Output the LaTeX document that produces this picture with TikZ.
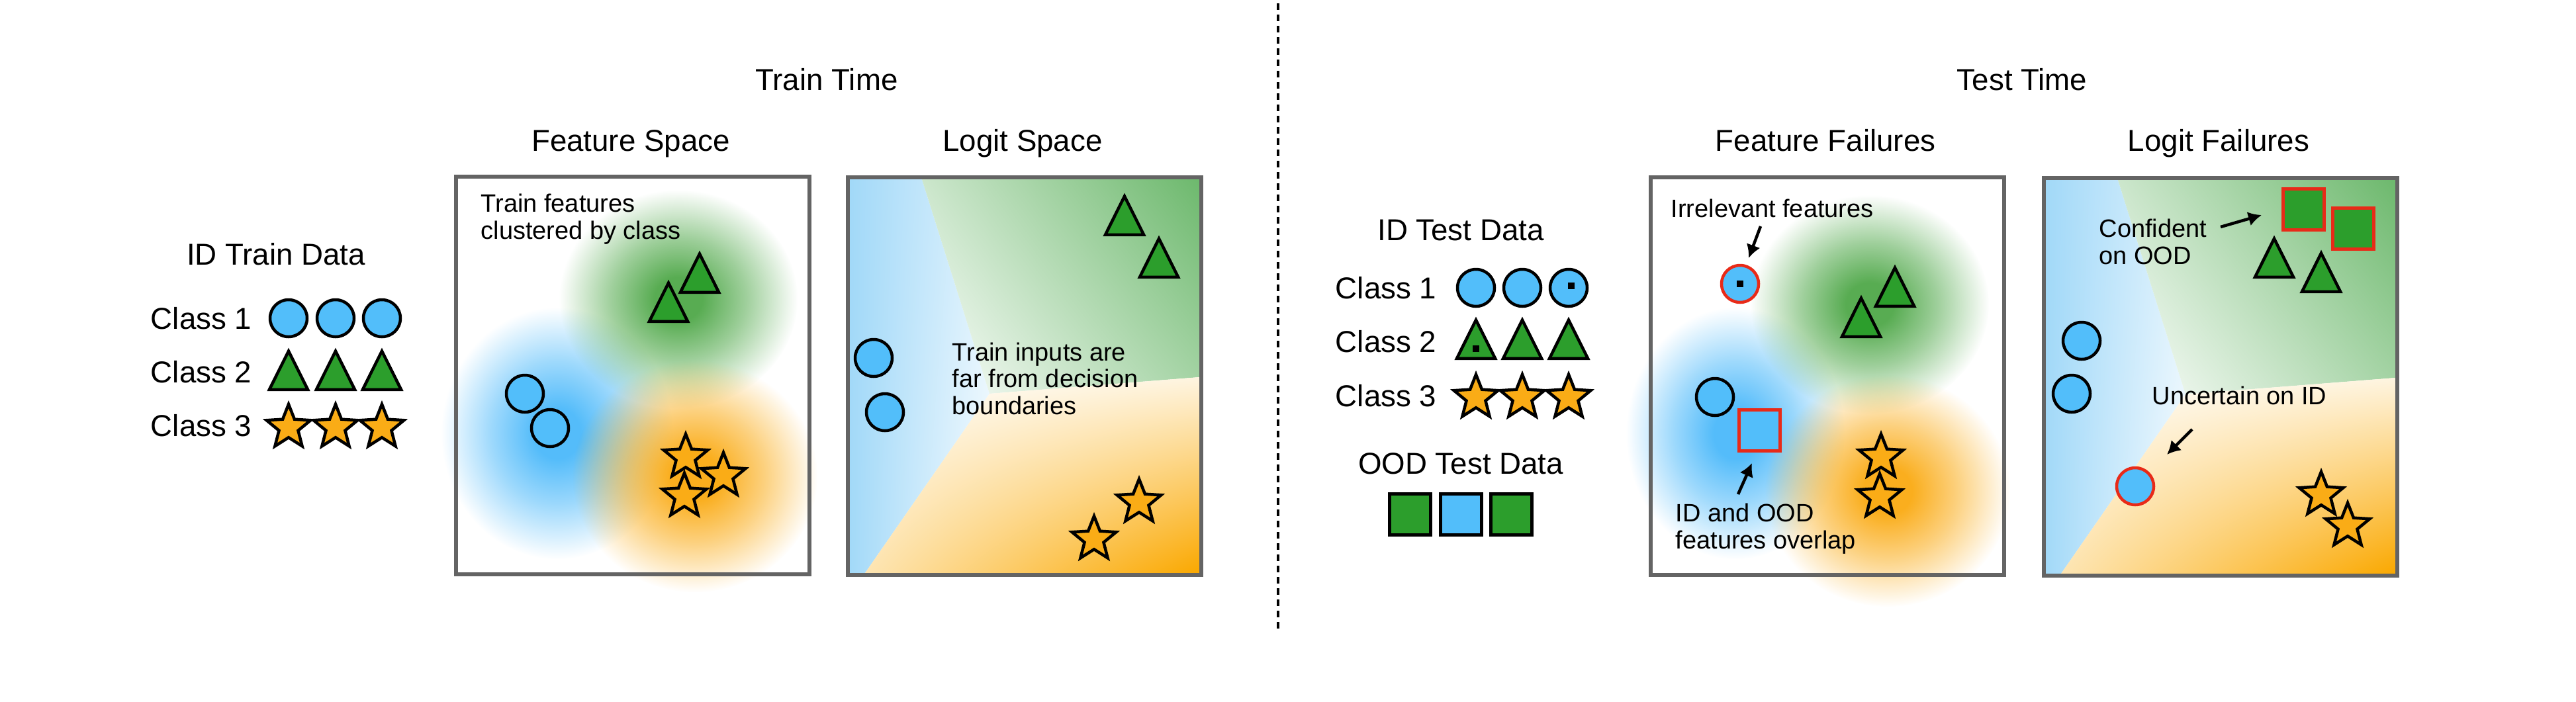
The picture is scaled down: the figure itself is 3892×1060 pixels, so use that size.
\documentclass[tikz,border=0pt]{standalone}
\usepackage{fontspec}
\setmainfont{Liberation Sans}
\usetikzlibrary{positioning, shapes.geometric, arrows.meta, fadings, shadings}

\definecolor{ptblue}{RGB}{82,190,250}
\definecolor{ptgreen}{RGB}{44,158,44}
\definecolor{ptorange}{RGB}{250,172,22}
\definecolor{ptred}{RGB}{232,42,24}
\definecolor{framegray}{RGB}{100,100,100}
\definecolor{blobblue}{RGB}{84,188,250}
\definecolor{blobgreen}{RGB}{88,172,82}
\definecolor{blobora}{RGB}{250,174,30}
\definecolor{lgblue}{RGB}{160,216,248}
\definecolor{lggreen}{RGB}{108,184,108}
\definecolor{lgora}{RGB}{250,168,0}

\pgfdeclareradialshading{blobshade}{\pgfpointorigin}{color(0bp)=(white); color(5bp)=(white); color(14bp)=(black!42); color(25bp)=(black); color(50bp)=(black)}
\pgfdeclarefading{blobfade}{\pgfuseshading{blobshade}}

\begin{document}
\begin{tikzpicture}[
				x=0.1mm, y=-0.1mm,
				panel/.style={draw=framegray, line width=0.55mm, minimum width=53.4mm, minimum height=60.1mm, inner sep=0, anchor=north west},
				paneltitle/.style={font=\fontsize{13}{15}\selectfont, anchor=base, inner sep=0},
				notetext/.style={font=\fontsize{10.8}{11.4}\selectfont, align=left, anchor=base west, inner sep=0},
				classlabel/.style={font=\fontsize{13}{15}\selectfont, anchor=east, inner sep=0},
				ptcircle/.style={circle, draw=black, fill=ptblue, line width=0.45mm, minimum size=5.6mm, inner sep=0},
				pttri/.style={isosceles triangle, isosceles triangle apex angle=53, shape border rotate=90, draw=black, fill=ptgreen, line width=0.45mm, minimum width=5.8mm, minimum height=5.8mm, inner sep=0, anchor=lower side},
				ptstar/.style={star, star points=5, star point ratio=2.3, draw=black, fill=ptorange, line width=0.45mm, minimum size=7mm, inner sep=0},
				ptsquare/.style={rectangle, draw=black, line width=0.5mm, minimum size=6.2mm, inner sep=0},
				flagged/.style={draw=ptred},
				markdot/.style={rectangle, fill=black, minimum size=1mm, inner sep=0},
				callout/.style={line width=0.45mm, -{Latex[length=2mm, width=2.2mm]}},
				divider/.style={line width=0.4mm, dash pattern=on 1mm off 0.7mm}
			]

			\useasboundingbox (0,0) rectangle (3892,1060);

			% soft class clusters in feature space
			\fill[blobblue, path fading=blobfade] (842,655) ellipse [x radius=17.5mm, y radius=19mm];
			\fill[blobgreen, path fading=blobfade] (1025,452) ellipse [x radius=18mm, y radius=16.5mm];
			\fill[blobora, path fading=blobfade] (1050,720) ellipse [x radius=18.5mm, y radius=17.5mm];

			\fill[blobblue, path fading=blobfade] (2622,655) ellipse [x radius=16.5mm, y radius=19mm];
			\fill[blobgreen, path fading=blobfade] (2825,460) ellipse [x radius=18mm, y radius=16.5mm];
			\fill[blobora, path fading=blobfade] (2852,742) ellipse [x radius=18.5mm, y radius=17.5mm];

			% decision regions in logit space
			\foreach \bx/\by in {1278/265, 3085/266} {
					\begin{scope}[shift={(\bx,\by)}]
						\shade[upper left=lgblue, lower left=lgblue, upper right=lgblue!35!white, lower right=lgblue!8!white]
							(0,0) -- (113,0) -- (217,330) -- (29,601) -- (0,601) -- cycle;
						\shade[upper left=lggreen!35!white, upper right=lggreen, lower left=white, lower right=lggreen!60!white]
							(113,0) -- (534,0) -- (534,305) -- (217,330) -- cycle;
						\shade[upper left=white, upper right=lgora!12!white, lower left=lgora!30!white, lower right=lgora]
							(217,330) -- (534,305) -- (534,601) -- (29,601) -- cycle;
					\end{scope}
				}

			\node[panel] (fsbox) at (686,264) {};
			\node[panel] (lsbox) at (1278,265) {};
			\node[panel] (ffbox) at (2491,265) {};
			\node[panel] (lfbox) at (3085,266) {};

			\node[paneltitle] (traintime) at (1249,136) {Train Time};
			\node[paneltitle] (testtime) at (3055,136) {Test Time};
			\node[paneltitle] (fstitle) at (953,228) {Feature Space};
			\node[paneltitle] (lstitle) at (1545,228) {Logit Space};
			\node[paneltitle] (fftitle) at (2758,228) {Feature Failures};
			\node[paneltitle] (lftitle) at (3352,228) {Logit Failures};

			\coordinate (divtop) at (1931,5);
			\coordinate (divbot) at (1931,950);
			\draw[divider] (divtop) -- (divbot);

			% train legend
			\node[paneltitle] (idtrain) at (417,400) {ID Train Data};
			\node[classlabel] (trl-1) at (381,481) {Class 1};
			\node[classlabel] (trl-2) at (381,562) {Class 2};
			\node[classlabel] (trl-3) at (381,643) {Class 3};

			\foreach \i/\x in {1/436, 2/507, 3/577} {
					\node[ptcircle] (trc-\i) at (\x,481) {};
					\node[pttri] (trt-\i) at (\x,591) {};
					\node[ptstar] (trs-\i) at (\x,646) {};
				}

			% test legend
			\node[paneltitle] (idtest) at (2207,363) {ID Test Data};
			\node[classlabel] (tel-1) at (2171,435) {Class 1};
			\node[classlabel] (tel-2) at (2171,516) {Class 2};
			\node[classlabel] (tel-3) at (2171,598) {Class 3};

			\foreach \i/\x in {1/2230, 2/2300, 3/2370} {
					\node[ptcircle] (tec-\i) at (\x,435) {};
					\node[pttri] (tet-\i) at (\x,544) {};
					\node[ptstar] (tes-\i) at (\x,601) {};
				}
			\node[markdot] (tec-dot) at (2374,432) {};
			\node[markdot] (tet-dot) at (2230,527) {};

			\node[paneltitle] (oodtest) at (2207,716) {OOD Test Data};
			\foreach \i/\x/\c in {1/2130/ptgreen, 2/2207/ptblue, 3/2283/ptgreen} {
					\node[ptsquare, fill=\c] (ood-\i) at (\x,777) {};
				}

			% feature space (note anchors sit on the last baseline)
			\node[notetext] (fsnote) at (726,361) {Train features\\clustered by class};
			\node[ptcircle] (fsc-1) at (793,595) {};
			\node[ptcircle] (fsc-2) at (831,647) {};
			\node[pttri] (fst-1) at (1057,444) {};
			\node[pttri] (fst-2) at (1010,488) {};
			\node[ptstar] (fss-1) at (1036,691) {};
			\node[ptstar] (fss-2) at (1093,719) {};
			\node[ptstar] (fss-3) at (1034,750) {};

			% logit space
			\node[notetext] (lsnote) at (1438,626) {Train inputs are\\far from decision\\boundaries};
			\node[ptcircle] (lsc-1) at (1320,541) {};
			\node[ptcircle] (lsc-2) at (1337,623) {};
			\node[pttri] (lst-1) at (1699,357) {};
			\node[pttri] (lst-2) at (1751,421) {};
			\node[ptstar] (lss-1) at (1721,759) {};
			\node[ptstar] (lss-2) at (1653,815) {};

			% feature failures
			\node[notetext] (irrnote) at (2524,328) {Irrelevant features};
			\node[ptcircle, flagged] (ffc-odd) at (2629,429) {};
			\node[markdot] (ffc-dot) at (2629,429) {};
			\node[pttri] (fft-1) at (2863,465) {};
			\node[pttri] (fft-2) at (2812,511) {};
			\node[ptcircle] (ffc-1) at (2591,600) {};
			\node[ptsquare, flagged, fill=ptblue] (ffq) at (2658,650) {};
			\node[ptstar] (ffs-1) at (2842,691) {};
			\node[ptstar] (ffs-2) at (2840,751) {};
			\node[notetext] (overlapnote) at (2531,829) {ID and OOD\\features overlap};

			\coordinate (irrtail) at (2660,342);
			\coordinate (irrtip) at (2642,390);
			\draw[callout] (irrtail) -- (irrtip);
			\coordinate (ovltail) at (2626,747);
			\coordinate (ovltip) at (2647,700);
			\draw[callout] (ovltail) -- (ovltip);

			% logit failures
			\node[notetext] (confnote) at (3171,399) {Confident\\on OOD};
			\node[ptsquare, flagged, fill=ptgreen] (lfq-1) at (3480,316) {};
			\node[ptsquare, flagged, fill=ptgreen] (lfq-2) at (3555,345) {};
			\node[pttri] (lft-1) at (3436,421) {};
			\node[pttri] (lft-2) at (3507,443) {};
			\node[ptcircle] (lfc-1) at (3145,515) {};
			\node[ptcircle] (lfc-2) at (3130,595) {};
			\node[notetext] (uncnote) at (3251,611) {Uncertain on ID};
			\node[ptcircle, flagged] (lfc-odd) at (3226,735) {};
			\node[ptstar] (lfs-1) at (3507,748) {};
			\node[ptstar] (lfs-2) at (3547,795) {};

			\coordinate (conftail) at (3355,343);
			\coordinate (conftip) at (3417,325);
			\draw[callout] (conftail) -- (conftip);
			\coordinate (unctail) at (3312,649);
			\coordinate (unctip) at (3274,687);
			\draw[callout] (unctail) -- (unctip);

		\end{tikzpicture}
\end{document}
